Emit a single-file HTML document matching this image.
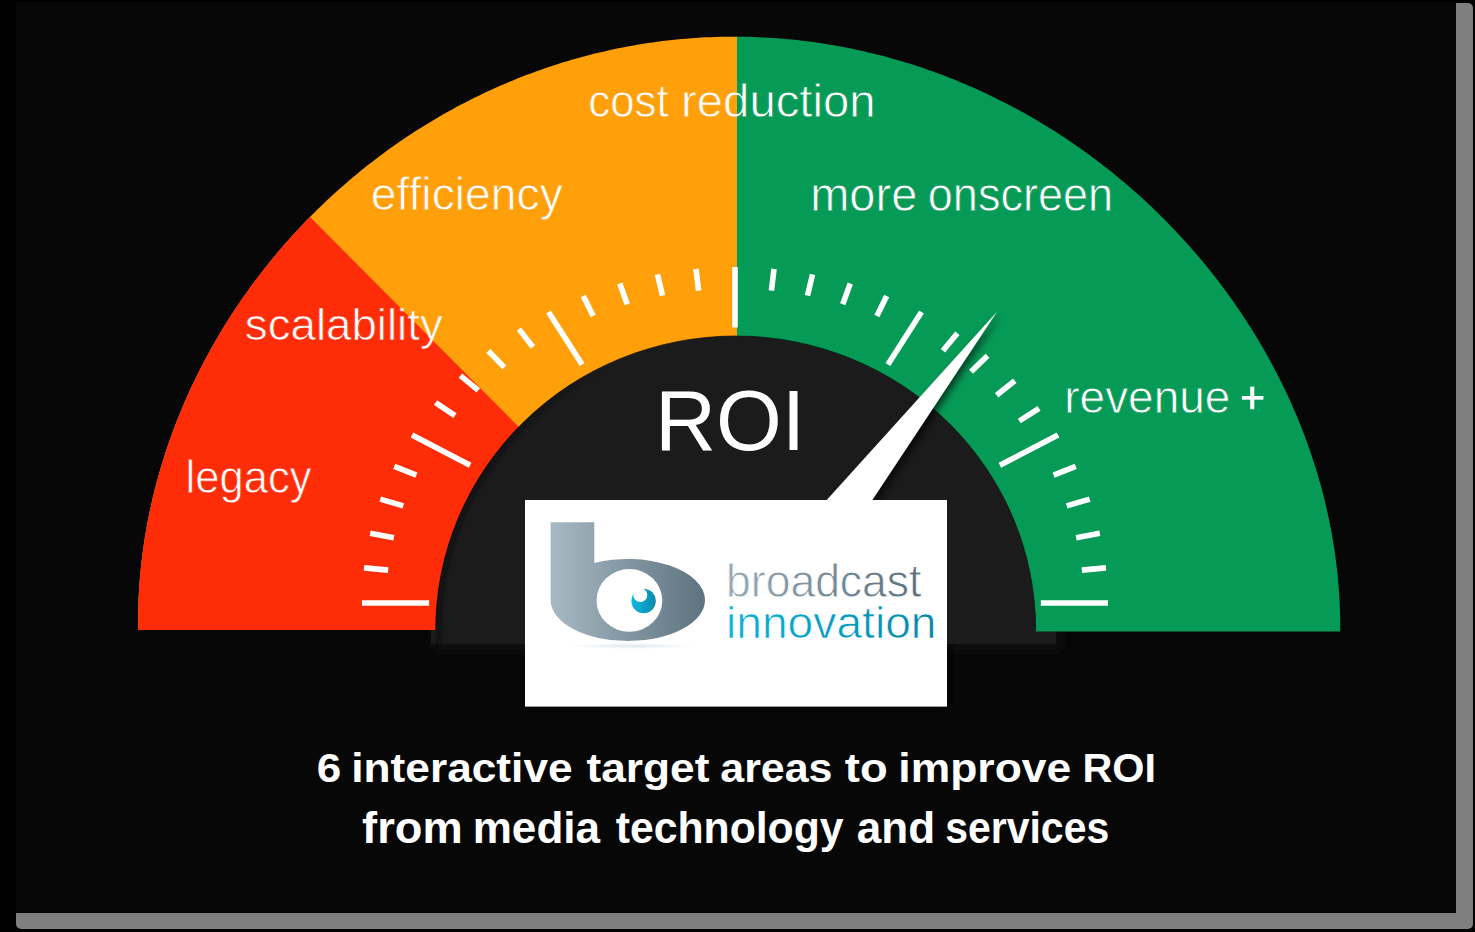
<!DOCTYPE html>
<html><head><meta charset="utf-8">
<style>
html,body{margin:0;padding:0;background:#000;width:1475px;height:932px;overflow:hidden}
svg{position:absolute;left:0;top:0;display:block}
text{font-family:"Liberation Sans",sans-serif}
</style></head><body>
<svg width="1475" height="932" viewBox="0 0 1475 932">
<defs>
 <clipPath id="above630"><rect x="0" y="0" width="1475" height="630"/></clipPath>
 <clipPath id="above631"><rect x="0" y="0" width="1475" height="631.5"/></clipPath>
 <clipPath id="above644"><rect x="0" y="0" width="1475" height="644"/></clipPath>
 <clipPath id="inner"><ellipse cx="735.7" cy="630.0" rx="300.0" ry="294.0"/></clipPath>
 <filter id="blur3" x="-10%" y="-10%" width="120%" height="120%"><feGaussianBlur stdDeviation="2.5"/></filter>
 <linearGradient id="shgrad" x1="0" y1="0" x2="0" y2="1"><stop offset="0" stop-color="#0d0d0d"/><stop offset="1" stop-color="#070707"/></linearGradient>
 <linearGradient id="lmg" x1="0" y1="0" x2="1" y2="0"><stop offset="0" stop-color="#fff"/><stop offset="0.12" stop-color="#fff"/><stop offset="0.3" stop-color="#000"/></linearGradient>
 <mask id="leftmask" maskUnits="userSpaceOnUse" x="0" y="0" width="1475" height="932"><rect x="431" y="0" width="625" height="700" fill="url(#lmg)"/></mask>
 <filter id="blur6" x="-20%" y="-50%" width="140%" height="200%"><feGaussianBlur stdDeviation="6"/></filter>
 <clipPath id="clipRed"><polygon points="0,0 93.1,0 1090,1000 0,1000"/></clipPath>
 <clipPath id="clipOrange"><polygon points="93.1,0 737,0 737,1000 1090,1000"/></clipPath>
 <clipPath id="clipGreen"><polygon points="737,0 1475,0 1475,1000 737,1000"/></clipPath>
 <clipPath id="outer"><polygon points="1339.40,656.08 1339.65,651.25 1339.85,646.41 1340.01,641.57 1340.13,636.74 1340.19,631.90 1340.22,627.05 1340.19,622.21 1340.12,617.37 1340.00,612.53 1339.84,607.69 1339.64,602.85 1339.39,598.01 1339.09,593.17 1338.75,588.34 1338.36,583.51 1337.93,578.69 1337.45,573.86 1336.93,569.05 1336.37,564.23 1335.76,559.43 1335.11,554.62 1334.42,549.83 1333.68,545.04 1332.90,540.26 1332.07,535.48 1331.21,530.72 1330.30,525.96 1329.35,521.21 1328.35,516.47 1327.32,511.73 1326.24,507.01 1325.12,502.30 1323.96,497.60 1322.76,492.90 1321.52,488.22 1320.24,483.55 1318.92,478.90 1317.56,474.25 1316.16,469.62 1314.72,465.00 1313.24,460.39 1311.72,455.79 1310.16,451.21 1308.57,446.65 1306.93,442.09 1305.26,437.56 1303.55,433.03 1301.81,428.52 1300.02,424.03 1298.20,419.55 1296.34,415.09 1294.45,410.65 1292.52,406.22 1290.55,401.81 1288.55,397.41 1286.51,393.03 1284.44,388.67 1282.34,384.33 1280.19,380.00 1278.02,375.70 1275.81,371.41 1273.56,367.14 1271.28,362.88 1268.97,358.65 1266.63,354.44 1264.25,350.24 1261.84,346.07 1259.40,341.91 1256.92,337.78 1254.42,333.67 1251.88,329.57 1249.31,325.50 1246.71,321.45 1244.08,317.41 1241.41,313.40 1238.72,309.41 1235.99,305.45 1233.24,301.50 1230.46,297.58 1227.64,293.67 1224.80,289.79 1221.93,285.94 1219.02,282.10 1216.09,278.29 1213.13,274.50 1210.15,270.74 1207.13,266.99 1204.09,263.28 1201.02,259.58 1197.92,255.91 1194.79,252.26 1191.64,248.64 1188.46,245.04 1185.25,241.47 1182.01,237.92 1178.75,234.39 1175.47,230.89 1172.15,227.42 1168.81,223.97 1165.45,220.54 1162.06,217.14 1158.65,213.77 1155.20,210.43 1151.74,207.10 1148.25,203.81 1144.74,200.54 1141.20,197.30 1137.63,194.09 1134.05,190.90 1130.44,187.74 1126.80,184.61 1123.14,181.50 1119.46,178.43 1115.76,175.38 1112.03,172.36 1108.28,169.36 1104.51,166.40 1100.72,163.46 1096.90,160.56 1093.06,157.68 1089.20,154.83 1085.32,152.01 1081.42,149.22 1077.49,146.46 1073.55,143.73 1069.58,141.03 1065.60,138.36 1061.59,135.72 1057.56,133.11 1053.52,130.53 1049.45,127.98 1045.36,125.46 1041.26,122.98 1037.13,120.52 1032.99,118.10 1028.82,115.71 1024.64,113.35 1020.44,111.03 1016.22,108.73 1011.99,106.47 1007.73,104.24 1003.46,102.05 999.17,99.88 994.87,97.75 990.54,95.66 986.20,93.60 981.85,91.57 977.48,89.57 973.09,87.62 968.69,85.69 964.27,83.80 959.83,81.94 955.38,80.12 950.92,78.34 946.44,76.59 941.95,74.87 937.44,73.19 932.92,71.55 928.39,69.94 923.84,68.37 919.28,66.83 914.71,65.33 910.13,63.87 905.53,62.44 900.92,61.06 896.30,59.70 891.67,58.39 887.03,57.11 882.38,55.87 877.72,54.67 873.04,53.51 868.36,52.38 863.67,51.29 858.97,50.24 854.26,49.23 849.54,48.26 844.82,47.32 840.08,46.43 835.34,45.57 830.59,44.75 825.83,43.97 821.07,43.23 816.30,42.53 811.53,41.87 806.75,41.24 801.96,40.66 797.17,40.12 792.37,39.61 787.57,39.15 782.77,38.72 777.96,38.34 773.15,37.99 768.34,37.69 763.52,37.42 758.70,37.20 753.88,37.01 749.06,36.87 744.24,36.76 739.41,36.69 734.59,36.67 729.76,36.69 724.94,36.74 720.11,36.84 715.29,36.97 710.47,37.15 705.64,37.36 700.83,37.62 696.01,37.92 691.19,38.25 686.38,38.63 681.57,39.05 676.77,39.50 671.97,40.00 667.17,40.54 662.38,41.12 657.59,41.73 652.81,42.39 648.03,43.09 643.26,43.82 638.50,44.60 633.74,45.41 628.99,46.27 624.25,47.16 619.51,48.10 614.79,49.07 610.07,50.08 605.36,51.13 600.66,52.22 595.96,53.35 591.28,54.52 586.61,55.72 581.95,56.97 577.30,58.25 572.65,59.57 568.03,60.93 563.41,62.33 558.80,63.76 554.21,65.24 549.63,66.75 545.06,68.30 540.50,69.88 535.96,71.50 531.43,73.16 526.91,74.86 522.41,76.59 517.93,78.36 513.46,80.17 509.00,82.01 504.56,83.89 500.13,85.80 495.72,87.75 491.33,89.73 486.95,91.75 482.59,93.81 478.25,95.90 473.92,98.02 469.61,100.18 465.32,102.38 461.05,104.61 456.79,106.87 452.56,109.16 448.34,111.49 444.14,113.86 439.96,116.25 435.80,118.68 431.66,121.15 427.54,123.64 423.44,126.17 419.36,128.73 415.30,131.32 411.26,133.94 407.25,136.60 403.25,139.29 399.28,142.00 395.32,144.75 391.39,147.53 387.48,150.34 383.60,153.19 379.73,156.06 375.89,158.96 372.08,161.89 368.28,164.85 364.51,167.84 360.76,170.86 357.04,173.91 353.34,176.99 349.66,180.09 346.01,183.23 342.38,186.39 338.78,189.58 335.20,192.80 331.65,196.05 328.13,199.32 324.63,202.62 321.15,205.95 317.70,209.31 314.28,212.69 310.88,216.10 307.51,219.53 304.17,222.99 300.85,226.48 297.56,229.99 294.30,233.53 291.07,237.09 287.86,240.68 284.68,244.29 281.53,247.93 278.41,251.59 275.32,255.27 272.25,258.98 269.21,262.72 266.21,266.47 263.23,270.25 260.28,274.06 257.36,277.88 254.47,281.73 251.61,285.60 248.79,289.50 245.99,293.41 243.22,297.35 240.48,301.31 237.78,305.29 235.10,309.30 232.46,313.32 229.85,317.37 227.27,321.43 224.72,325.52 222.21,329.62 219.72,333.75 217.27,337.89 214.86,342.06 212.47,346.24 210.12,350.45 207.81,354.67 205.52,358.91 203.27,363.17 201.06,367.45 198.88,371.75 196.73,376.06 194.62,380.39 192.54,384.74 190.50,389.10 188.50,393.48 186.53,397.88 184.59,402.30 182.70,406.73 180.84,411.17 179.01,415.63 177.22,420.11 175.47,424.60 173.76,429.10 172.08,433.62 170.44,438.16 168.84,442.70 167.28,447.27 165.75,451.84 164.27,456.43 162.82,461.02 161.41,465.63 160.04,470.26 158.72,474.89 157.43,479.54 156.17,484.19 154.96,488.86 153.79,493.54 152.67,498.22 151.58,502.92 150.53,507.63 149.52,512.34 148.55,517.06 147.63,521.79 146.75,526.53 145.91,531.28 145.11,536.03 144.35,540.79 143.63,545.56 142.96,550.33 142.33,555.10 141.74,559.89 141.20,564.67 140.70,569.46 140.24,574.26 139.83,579.06 139.46,583.86 139.13,588.66 138.85,593.47 138.61,598.28 138.41,603.08 138.26,607.89 138.15,612.70 138.09,617.51 138.07,622.32 138.10,627.13 138.17,631.94 138.29,636.74 138.45,641.55 138.66,646.35 138.91,651.15 139.20,655.94"/></clipPath>
 <linearGradient id="bgrad" x1="0" y1="0" x2="1" y2="0">
  <stop offset="0" stop-color="#a7b9c3"/><stop offset="1" stop-color="#5d7380"/>
 </linearGradient>
 <linearGradient id="t1grad" x1="0" y1="0" x2="1" y2="0">
  <stop offset="0" stop-color="#98acb8"/><stop offset="1" stop-color="#596e7d"/>
 </linearGradient>
 <linearGradient id="t2grad" x1="0" y1="0" x2="1" y2="0">
  <stop offset="0" stop-color="#0cb2dc"/><stop offset="1" stop-color="#0588a6"/>
 </linearGradient>
 <linearGradient id="pgrad" x1="0" y1="0" x2="1" y2="0"><stop offset="0" stop-color="#10b8e2"/><stop offset="1" stop-color="#0a8aab"/></linearGradient>
 <radialGradient id="refl"><stop offset="0" stop-color="#dfe8ee"/><stop offset="1" stop-color="#ffffff"/></radialGradient>
 <filter id="nsh" x="-50%" y="-50%" width="200%" height="200%">
  <feGaussianBlur stdDeviation="3.5"/>
 </filter>
</defs>
<!-- shadow + panel -->
<rect x="16" y="3" width="1457" height="926" rx="5" fill="#7f7f7f"/>
<rect x="16" y="3" width="10" height="10" fill="#7f7f7f"/>
<rect x="16" y="2" width="1440" height="911" fill="#070707"/>
<!-- inner grey rect -->
<rect x="433" y="600" width="627" height="50" fill="#1b1b1b" opacity="0.45" filter="url(#blur6)"/>
<rect x="943" y="505" width="10" height="200" fill="#000" opacity="0.5" filter="url(#blur3)"/>
<rect x="431" y="560" width="625" height="84" fill="#1b1b1b"/>
<!-- colored ring -->
<g clip-path="url(#outer)">
 <rect clip-path="url(#above630)" x="100" y="0" width="637.5" height="640" fill="#ffa00a"/>
 <path clip-path="url(#above630)" d="M100 630 L100 0 L93.1 0 L310.1 217 L518.4 426.5 L720.7 630 Z" fill="#ff2d07"/>
 <rect clip-path="url(#above631)" x="737" y="0" width="700" height="640" fill="#069a57"/>
</g>
<g clip-path="url(#above644)">
<ellipse cx="735.7" cy="630.0" rx="300.0" ry="294.0" fill="#1b1b1b"/>
<ellipse clip-path="url(#above630)" cx="735.7" cy="630.0" rx="300.0" ry="294.0" fill="none" stroke="#0e0e0e" stroke-width="1" opacity="0.7"/>
<g clip-path="url(#inner)">
 <ellipse cx="735.7" cy="630.0" rx="300.0" ry="294.0" fill="none" stroke="#080808" stroke-width="8" filter="url(#blur3)" opacity="0.7" mask="url(#leftmask)"/>
</g>
</g>
<!-- shadow under inner rect -->
<!-- needle shadow -->
<polygon points="831,503 877,503 1001,314" fill="#000" opacity="0.6" filter="url(#nsh)"/>
<!-- ticks -->
<g stroke="#fff" stroke-width="5.6" stroke-linecap="butt">
<line x1="362.00" y1="603.00" x2="429.14" y2="603.00"/>
<line x1="364.04" y1="567.88" x2="388.16" y2="570.16"/>
<line x1="370.15" y1="533.14" x2="393.87" y2="537.68"/>
<line x1="380.26" y1="499.17" x2="403.31" y2="505.92"/>
<line x1="394.25" y1="466.34" x2="416.40" y2="475.22"/>
<line x1="411.97" y1="435.00" x2="470.12" y2="465.24"/>
<line x1="435.55" y1="402.67" x2="455.01" y2="415.69"/>
<line x1="460.44" y1="375.57" x2="478.28" y2="390.35"/>
<line x1="488.33" y1="350.96" x2="504.36" y2="367.35"/>
<line x1="518.93" y1="329.12" x2="532.97" y2="346.92"/>
<line x1="548.50" y1="312.02" x2="582.07" y2="364.39"/>
<line x1="583.29" y1="296.05" x2="593.15" y2="316.00"/>
<line x1="619.74" y1="283.45" x2="627.23" y2="304.22"/>
<line x1="657.45" y1="274.34" x2="662.49" y2="295.71"/>
<line x1="696.01" y1="268.84" x2="698.55" y2="290.56"/>
<line x1="735.00" y1="267.00" x2="735.00" y2="327.48"/>
<line x1="773.99" y1="268.84" x2="771.45" y2="290.56"/>
<line x1="812.55" y1="274.34" x2="807.51" y2="295.71"/>
<line x1="850.26" y1="283.45" x2="842.77" y2="304.22"/>
<line x1="886.71" y1="296.05" x2="876.85" y2="316.00"/>
<line x1="921.50" y1="312.02" x2="887.93" y2="364.39"/>
<line x1="957.39" y1="333.25" x2="942.94" y2="350.79"/>
<line x1="987.47" y1="355.67" x2="971.06" y2="371.75"/>
<line x1="1014.79" y1="380.80" x2="996.60" y2="395.24"/>
<line x1="1039.04" y1="408.36" x2="1019.28" y2="421.01"/>
<line x1="1058.03" y1="435.00" x2="999.88" y2="465.24"/>
<line x1="1075.75" y1="466.34" x2="1053.60" y2="475.22"/>
<line x1="1089.74" y1="499.17" x2="1066.69" y2="505.92"/>
<line x1="1099.85" y1="533.14" x2="1076.13" y2="537.68"/>
<line x1="1105.96" y1="567.88" x2="1081.84" y2="570.16"/>
<line x1="1108.00" y1="603.00" x2="1040.86" y2="603.00"/>
</g>
<!-- labels -->
<text transform="matrix(0.9151 0 0 0.9714 588.17 116.60)" x="0" y="0" font-size="48" font-weight="normal" fill="#fff" >cost</text>
<text transform="matrix(0.9853 0 0 0.9714 681.06 116.60)" x="0" y="0" font-size="48" font-weight="normal" fill="#fff" >reduction</text>
<g clip-path="url(#clipRed)"><text transform="matrix(0.9151 0 0 0.9714 588.17 116.60)" x="0" y="0" font-size="48" font-weight="normal" fill="none" stroke="#ff2d07" stroke-width="0.8">cost</text>
<text transform="matrix(0.9853 0 0 0.9714 681.06 116.60)" x="0" y="0" font-size="48" font-weight="normal" fill="none" stroke="#ff2d07" stroke-width="0.8">reduction</text></g>
<g clip-path="url(#clipOrange)"><text transform="matrix(0.9151 0 0 0.9714 588.17 116.60)" x="0" y="0" font-size="48" font-weight="normal" fill="none" stroke="#ffa00a" stroke-width="0.8">cost</text>
<text transform="matrix(0.9853 0 0 0.9714 681.06 116.60)" x="0" y="0" font-size="48" font-weight="normal" fill="none" stroke="#ffa00a" stroke-width="0.8">reduction</text></g>
<g clip-path="url(#clipGreen)"><text transform="matrix(0.9151 0 0 0.9714 588.17 116.60)" x="0" y="0" font-size="48" font-weight="normal" fill="none" stroke="#069a57" stroke-width="0.8">cost</text>
<text transform="matrix(0.9853 0 0 0.9714 681.06 116.60)" x="0" y="0" font-size="48" font-weight="normal" fill="none" stroke="#069a57" stroke-width="0.8">reduction</text></g>
<text transform="matrix(0.9638 0 0 0.9622 370.77 210.08)" x="0" y="0" font-size="48" font-weight="normal" fill="#fff" >efficiency</text>
<g clip-path="url(#clipRed)"><text transform="matrix(0.9638 0 0 0.9622 370.77 210.08)" x="0" y="0" font-size="48" font-weight="normal" fill="none" stroke="#ff2d07" stroke-width="0.8">efficiency</text></g>
<g clip-path="url(#clipOrange)"><text transform="matrix(0.9638 0 0 0.9622 370.77 210.08)" x="0" y="0" font-size="48" font-weight="normal" fill="none" stroke="#ffa00a" stroke-width="0.8">efficiency</text></g>
<g clip-path="url(#clipGreen)"><text transform="matrix(0.9638 0 0 0.9622 370.77 210.08)" x="0" y="0" font-size="48" font-weight="normal" fill="none" stroke="#069a57" stroke-width="0.8">efficiency</text></g>
<text transform="matrix(0.9796 0 0 0.9846 810.18 211.20)" x="0" y="0" font-size="48" font-weight="normal" fill="#fff" >more</text>
<text transform="matrix(0.9380 0 0 0.9846 927.82 211.20)" x="0" y="0" font-size="48" font-weight="normal" fill="#fff" >onscreen</text>
<g clip-path="url(#clipRed)"><text transform="matrix(0.9796 0 0 0.9846 810.18 211.20)" x="0" y="0" font-size="48" font-weight="normal" fill="none" stroke="#ff2d07" stroke-width="0.8">more</text>
<text transform="matrix(0.9380 0 0 0.9846 927.82 211.20)" x="0" y="0" font-size="48" font-weight="normal" fill="none" stroke="#ff2d07" stroke-width="0.8">onscreen</text></g>
<g clip-path="url(#clipOrange)"><text transform="matrix(0.9796 0 0 0.9846 810.18 211.20)" x="0" y="0" font-size="48" font-weight="normal" fill="none" stroke="#ffa00a" stroke-width="0.8">more</text>
<text transform="matrix(0.9380 0 0 0.9846 927.82 211.20)" x="0" y="0" font-size="48" font-weight="normal" fill="none" stroke="#ffa00a" stroke-width="0.8">onscreen</text></g>
<g clip-path="url(#clipGreen)"><text transform="matrix(0.9796 0 0 0.9846 810.18 211.20)" x="0" y="0" font-size="48" font-weight="normal" fill="none" stroke="#069a57" stroke-width="0.8">more</text>
<text transform="matrix(0.9380 0 0 0.9846 927.82 211.20)" x="0" y="0" font-size="48" font-weight="normal" fill="none" stroke="#069a57" stroke-width="0.8">onscreen</text></g>
<text transform="matrix(0.9517 0 0 0.9267 244.80 340.13)" x="0" y="0" font-size="48" font-weight="normal" fill="#fff" >scalability</text>
<g clip-path="url(#clipRed)"><text transform="matrix(0.9517 0 0 0.9267 244.80 340.13)" x="0" y="0" font-size="48" font-weight="normal" fill="none" stroke="#ff2d07" stroke-width="0.8">scalability</text></g>
<g clip-path="url(#clipOrange)"><text transform="matrix(0.9517 0 0 0.9267 244.80 340.13)" x="0" y="0" font-size="48" font-weight="normal" fill="none" stroke="#ffa00a" stroke-width="0.8">scalability</text></g>
<g clip-path="url(#clipGreen)"><text transform="matrix(0.9517 0 0 0.9267 244.80 340.13)" x="0" y="0" font-size="48" font-weight="normal" fill="none" stroke="#069a57" stroke-width="0.8">scalability</text></g>
<text transform="matrix(0.9075 0 0 0.9556 185.57 493.34)" x="0" y="0" font-size="48" font-weight="normal" fill="#fff" >legacy</text>
<g clip-path="url(#clipRed)"><text transform="matrix(0.9075 0 0 0.9556 185.57 493.34)" x="0" y="0" font-size="48" font-weight="normal" fill="none" stroke="#ff2d07" stroke-width="0.8">legacy</text></g>
<g clip-path="url(#clipOrange)"><text transform="matrix(0.9075 0 0 0.9556 185.57 493.34)" x="0" y="0" font-size="48" font-weight="normal" fill="none" stroke="#ffa00a" stroke-width="0.8">legacy</text></g>
<g clip-path="url(#clipGreen)"><text transform="matrix(0.9075 0 0 0.9556 185.57 493.34)" x="0" y="0" font-size="48" font-weight="normal" fill="none" stroke="#069a57" stroke-width="0.8">legacy</text></g>
<text transform="matrix(0.9575 0 0 0.9667 1064.27 412.70)" x="0" y="0" font-size="48" font-weight="normal" fill="#fff" >revenue</text>
<g clip-path="url(#clipRed)"><text transform="matrix(0.9575 0 0 0.9667 1064.27 412.70)" x="0" y="0" font-size="48" font-weight="normal" fill="none" stroke="#ff2d07" stroke-width="0.8">revenue</text></g>
<g clip-path="url(#clipOrange)"><text transform="matrix(0.9575 0 0 0.9667 1064.27 412.70)" x="0" y="0" font-size="48" font-weight="normal" fill="none" stroke="#ffa00a" stroke-width="0.8">revenue</text></g>
<g clip-path="url(#clipGreen)"><text transform="matrix(0.9575 0 0 0.9667 1064.27 412.70)" x="0" y="0" font-size="48" font-weight="normal" fill="none" stroke="#069a57" stroke-width="0.8">revenue</text></g>
<rect x="1241.9" y="396" width="21.5" height="3.7" fill="#fff"/>
<rect x="1250.2" y="386.6" width="4.1" height="22.7" fill="#fff"/>
<text transform="matrix(1.0074 0 0 1.0203 654.95 450.18)" x="0" y="0" font-size="84" font-weight="normal" fill="#fff" >ROI</text>
<!-- needle -->
<polygon points="826.7,500 872.4,500 997.2,311.6" fill="#fff"/>
<!-- logo box -->
<rect x="525" y="500" width="422" height="206.6" fill="#fff"/>
<!-- b logo -->
<ellipse cx="632" cy="646" rx="62" ry="3" fill="url(#refl)"/>
<path d="M550.6 522.3 L594.3 522.3 L594.3 563 A77.2 41 0 0 1 705 600 A77.2 41 0 0 1 550.6 600 Z" fill="url(#bgrad)"/>
<ellipse cx="629.4" cy="600.4" rx="32.9" ry="31.4" fill="#fff"/>
<circle cx="643.6" cy="601" r="12.2" fill="url(#pgrad)"/>
<circle cx="640.3" cy="595" r="7" fill="#fff"/>
<text transform="matrix(1.0349 0 0 1.0903 726.10 597.10)" x="0" y="0" font-size="43" font-weight="normal" fill="url(#t1grad)" stroke="#fff" stroke-width="0.7">broadcast</text>
<text transform="matrix(1.0743 0 0 1.0258 725.98 637.80)" x="0" y="0" font-size="43" font-weight="normal" fill="url(#t2grad)" stroke="#fff" stroke-width="0.7">innovation</text>
<!-- bottom text -->
<text transform="matrix(1.0476 0 0 0.9850 316.75 782.43)" x="0" y="0" font-size="42" font-weight="bold" fill="#fff" >6</text>
<text transform="matrix(1.0539 0 0 0.9850 351.24 782.43)" x="0" y="0" font-size="42" font-weight="bold" fill="#fff" >interactive</text>
<text transform="matrix(1.0543 0 0 0.9850 586.40 782.43)" x="0" y="0" font-size="42" font-weight="bold" fill="#fff" >target</text>
<text transform="matrix(1.0224 0 0 0.9850 720.28 782.43)" x="0" y="0" font-size="42" font-weight="bold" fill="#fff" >areas</text>
<text transform="matrix(1.0816 0 0 0.9850 844.80 782.43)" x="0" y="0" font-size="42" font-weight="bold" fill="#fff" >to</text>
<text transform="matrix(1.0585 0 0 0.9850 898.32 782.43)" x="0" y="0" font-size="42" font-weight="bold" fill="#fff" >improve</text>
<text transform="matrix(0.9841 0 0 0.9850 1082.45 782.43)" x="0" y="0" font-size="42" font-weight="bold" fill="#fff" >ROI</text>
<text transform="matrix(1.0767 0 0 1.0600 362.12 842.66)" x="0" y="0" font-size="42" font-weight="bold" fill="#fff" >from</text>
<text transform="matrix(1.0504 0 0 1.0600 472.65 842.66)" x="0" y="0" font-size="42" font-weight="bold" fill="#fff" >media</text>
<text transform="matrix(1.0174 0 0 1.0600 615.70 842.66)" x="0" y="0" font-size="42" font-weight="bold" fill="#fff" >technology</text>
<text transform="matrix(1.0493 0 0 1.0600 856.75 842.66)" x="0" y="0" font-size="42" font-weight="bold" fill="#fff" >and</text>
<text transform="matrix(0.9753 0 0 1.0600 945.22 842.66)" x="0" y="0" font-size="42" font-weight="bold" fill="#fff" >services</text>
</svg>
</body></html>
